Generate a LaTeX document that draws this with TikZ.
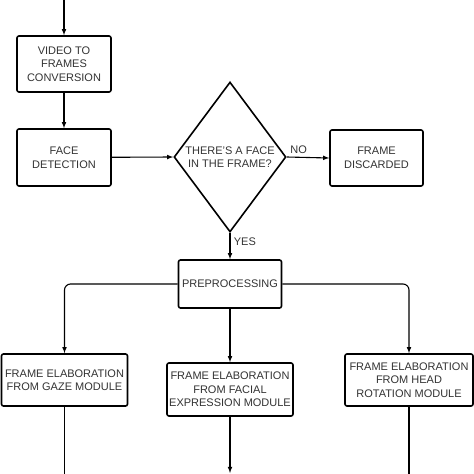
\documentclass[tikz,border=0pt]{standalone}
\usepackage{fontspec}
\setmainfont{Liberation Sans}
\usetikzlibrary{shapes.geometric,arrows}

\tikzset{
  box/.style={draw,rounded corners=2pt,line width=1.6pt,fill=white,align=center,
    inner sep=1pt,font=\fontsize{11}{13.5}\selectfont,text=black!80},
  decision/.style={diamond,draw,line width=1.6pt,align=center,inner sep=0pt,
    minimum width=112pt,minimum height=150pt,font=\fontsize{11}{13.5}\selectfont,text=black!80},
  link/.style={-latex,line width=1.1pt},
  tag/.style={font=\fontsize{11}{13.5}\selectfont,text=black!80}
}

\begin{document}
\begin{tikzpicture}[x=1pt,y=-1pt]
  \useasboundingbox (0,0) rectangle (474,474);
  \coordinate (in) at (64,0);
  \node[box,minimum width=94pt,minimum height=56pt](video)at(64,64){VIDEO TO\\FRAMES\\CONVERSION};
  \node[box,minimum width=94pt,minimum height=57pt](face)at(64,157.5){FACE\\DETECTION};
  \node[decision](check)at(230,157){THERE'S A FACE\\IN THE FRAME?};
  \node[box,minimum width=93pt,minimum height=56pt](discard)at(376.5,158){FRAME\\DISCARDED};
  \node[box,minimum width=103pt,minimum height=48pt](prep)at(230,284){PREPROCESSING};
  \node[box,minimum width=126pt,minimum height=52pt](gaze)at(64.5,380){FRAME ELABORATION\\FROM GAZE MODULE};
  \node[box,minimum width=126pt,minimum height=53pt](facial)at(230,389.5){FRAME ELABORATION\\FROM FACIAL\\EXPRESSION MODULE};
  \node[box,minimum width=128pt,minimum height=52pt](head)at(409,380){FRAME ELABORATION\\FROM HEAD\\ROTATION MODULE};
  \coordinate (outa) at (64.5,474);
  \coordinate (outb) at (230,473);
  \coordinate (outc) at (409,474);
  % flow
  \draw[link](in)--(video);
  \draw[link](video)--(face);
  \draw[link](face)--(check.west);
  \draw[link](check.east)--node[tag,above,pos=0.28]{NO}(discard.west);
  \draw[link](check.south)--node[tag,right,pos=0.35]{YES}(prep.north);
  \draw[link,rounded corners=6pt](prep.west)-|(gaze.north);
  \draw[link](prep.south)--(facial.north);
  \draw[link,rounded corners=6pt](prep.east)-|(head.north);
  \draw[line width=1.1pt](gaze.south)--(outa);
  \draw[link](facial.south)--(outb);
  \draw[line width=1.1pt](head.south)--(outc);
\end{tikzpicture}
\end{document}
